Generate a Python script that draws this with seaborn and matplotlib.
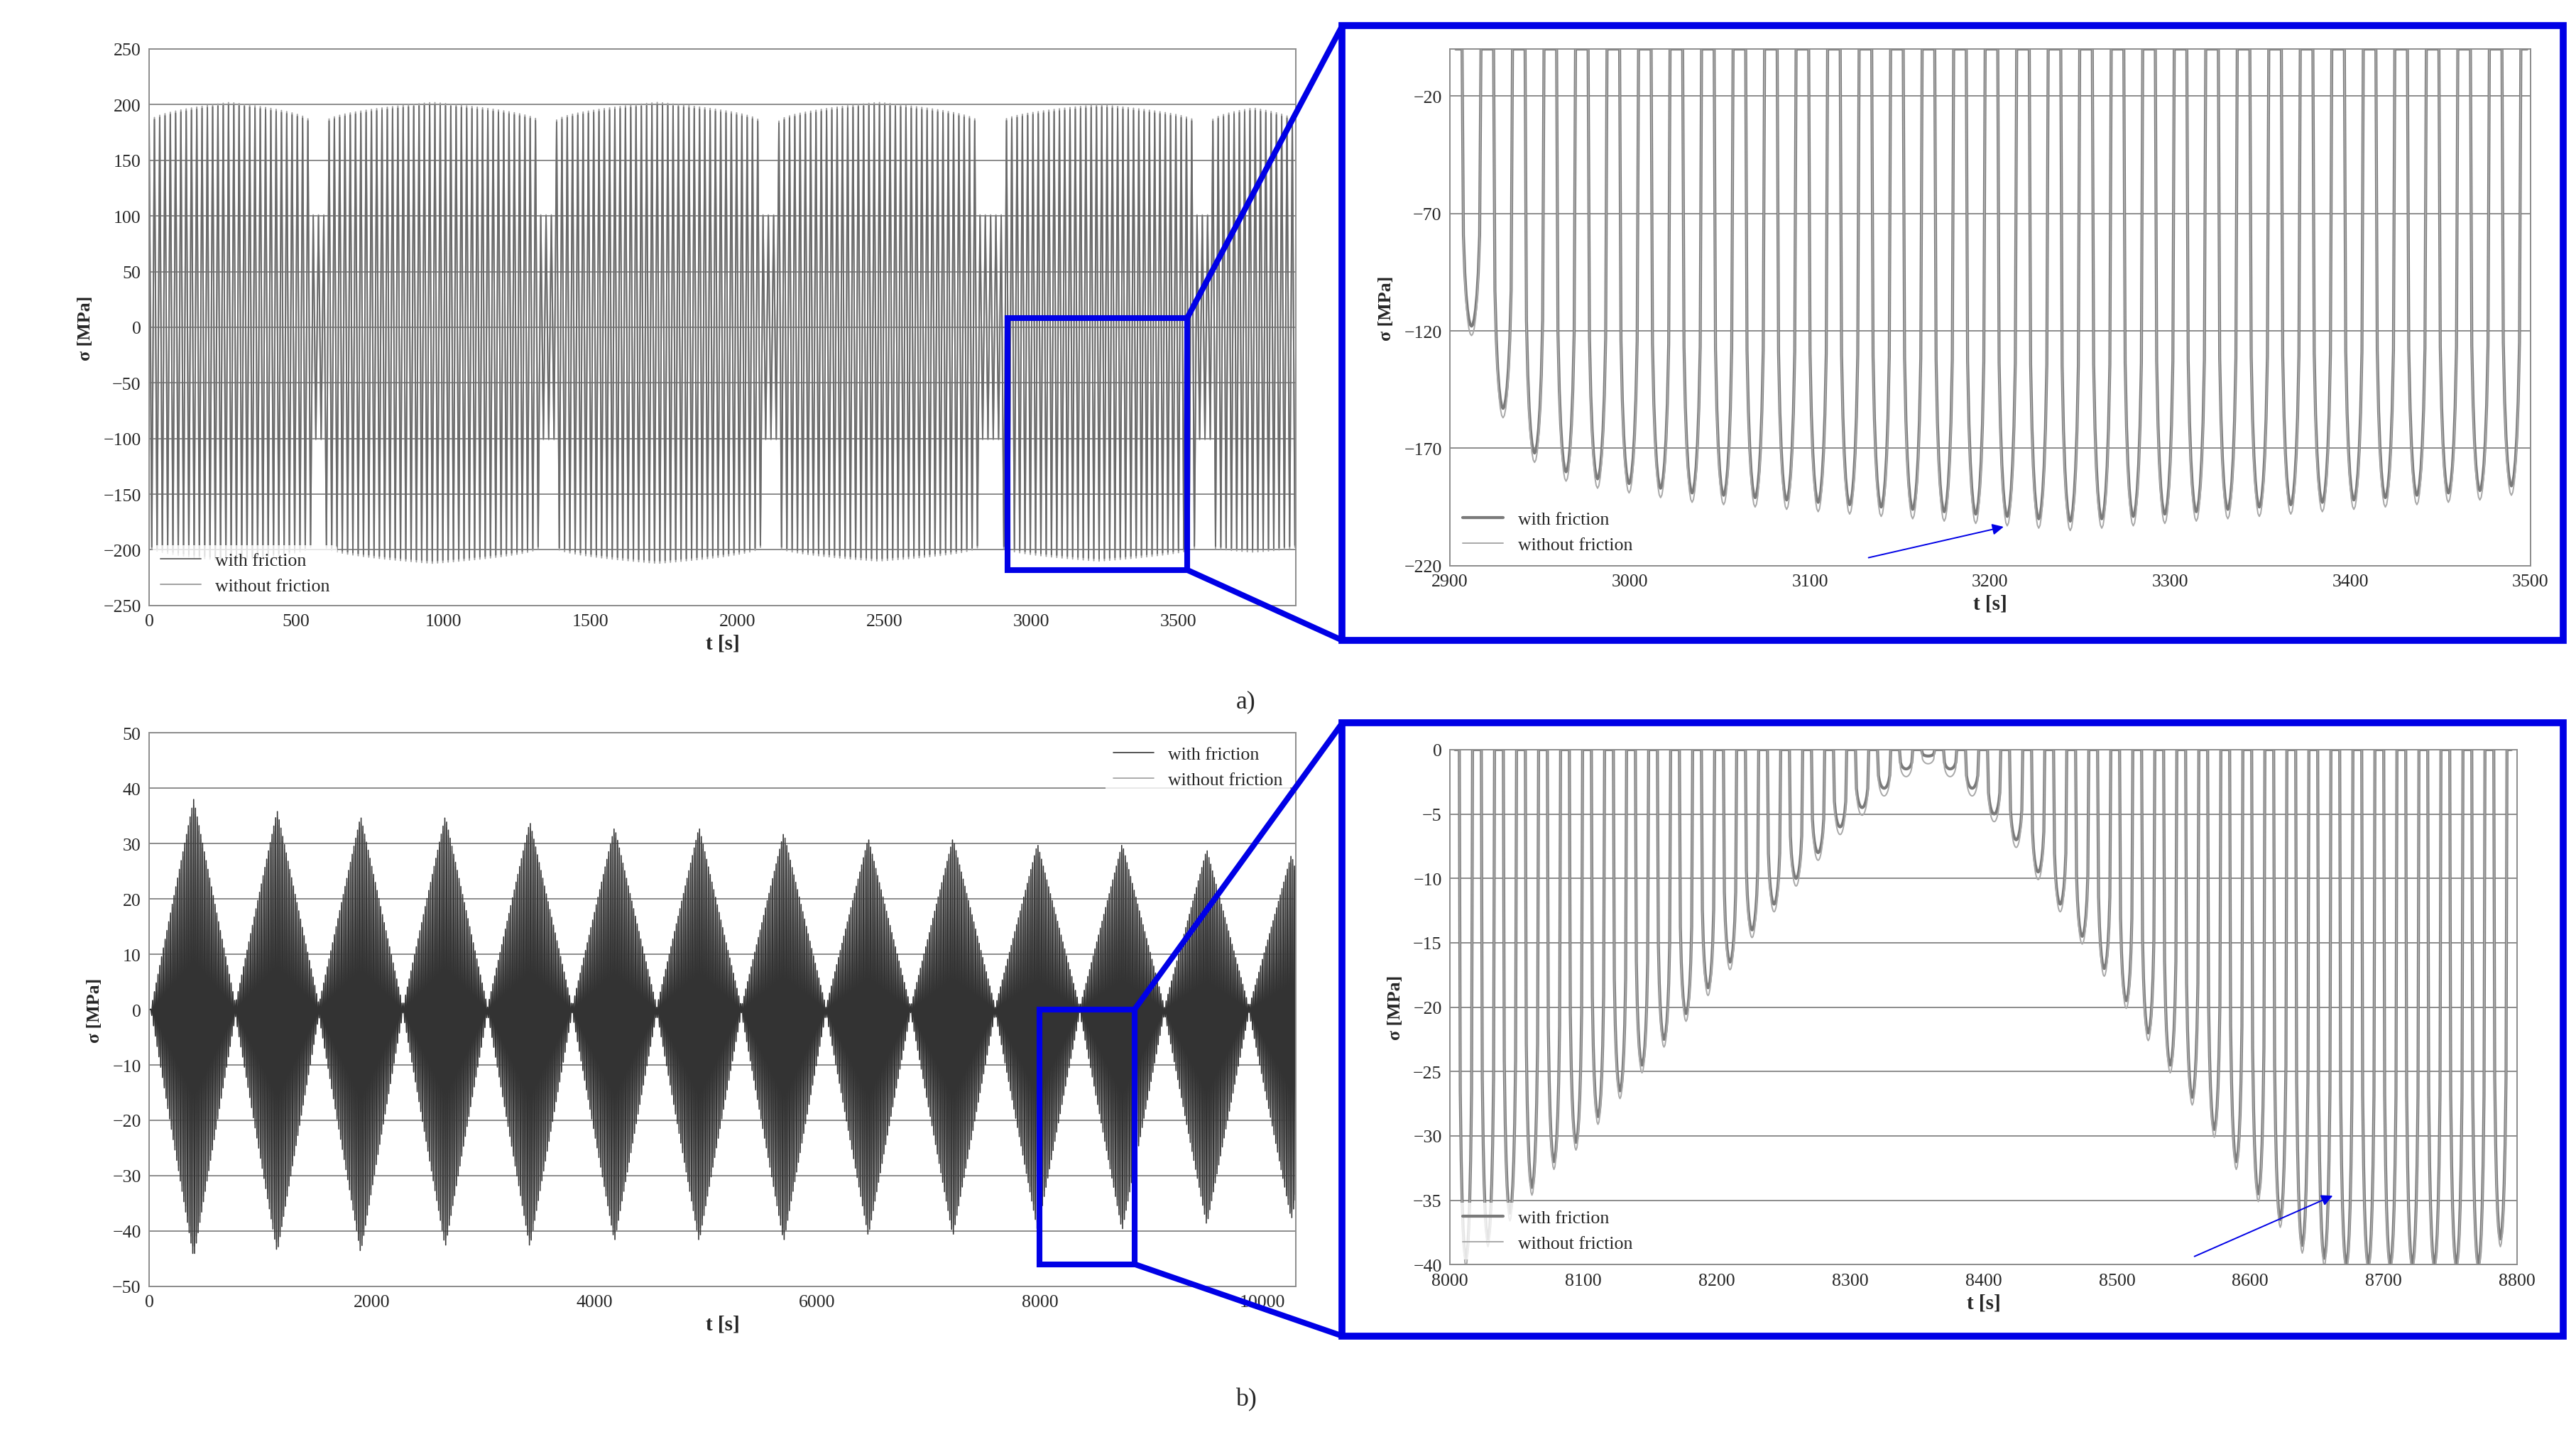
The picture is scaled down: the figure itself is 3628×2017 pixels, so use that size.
import numpy as np
import pandas as pd
import matplotlib
matplotlib.use("Agg")
import matplotlib.pyplot as plt
import seaborn as sns
from matplotlib.patches import Rectangle, ConnectionPatch

sns.set_style("white")
plt.rcParams['font.family'] = ['Liberation Serif', 'DejaVu Serif']

# ---- data ----
# panel a) main: loading blocks (start, end) and envelope of peaks [MPa]
a_block_start = [0, 600, 1380, 2140, 2900, 3610]
a_block_end = [550, 1330, 2080, 2820, 3560, 3900]
a_top_edge = [182, 182, 182, 182, 182, 182]
a_top_mid = [200, 200, 200, 200, 198, 195]
a_bot_edge = [-195, -195, -195, -195, -195, -195]
a_bot_mid = [-208, -210, -210, -208, -208, -200]
a_half_period = 9.0

# panel a) zoom: minima of each cycle, 2900..3500 s
az_t0, az_period = 2912, 17.5
az_min_with = [-118, -153, -172, -180, -183, -185, -187, -189, -190, -191, -192, -193,
               -194, -195, -196, -197, -198, -199, -200, -201, -200, -199, -198, -197,
               -196, -195, -194, -193, -192, -191, -190, -189, -188, -186]
az_min_without = [m - 4 for m in az_min_with]

# panel b) main: triangle envelope peaks
b_peak_t = [400, 1150, 1900, 2660, 3420, 4180, 4940, 5700, 6460, 7220, 7980, 8740, 9500, 10260]
b_peak_top = [38, 36, 35, 35, 34, 33, 33, 32, 31, 31, 30, 30, 29, 28]
b_peak_bot = [-45, -44, -44, -43, -43, -42, -42, -42, -41, -41, -40, -40, -39, -38]
b_half_period = 8.0

# panel b) zoom: minima of each cycle, 8000..8800 s
bz_t0, bz_period = 8012, 16.5
bz_min_with = [-39.5, -38, -36, -34, -32, -30.5, -28.5, -26.5, -24.5, -22.5, -20.5, -18.5,
               -16.5, -14, -12, -10, -8, -6, -4.5, -3, -1.5, -0.5, -1.5, -3, -5, -7,
               -9.5, -12, -14.5, -17, -19.5, -22, -24.5, -27, -29.5, -32, -34.5, -36.5,
               -38.5, -39.5, -40, -40, -40, -40, -40, -40, -40, -38]
bz_min_without = [m - 0.6 for m in bz_min_with]


def env_a(t):
    for s, e, te, tm, be, bm in zip(a_block_start, a_block_end, a_top_edge, a_top_mid, a_bot_edge, a_bot_mid):
        if s <= t <= e:
            u = 1 - abs(2 * (t - s) / (e - s) - 1)
            return te + (tm - te) * np.sqrt(u), be + (bm - be) * np.sqrt(u)
    return 100, -100


def series_a():
    ts, vs = [], []
    t, k = 0.0, 0
    while t <= 3900:
        top, bot = env_a(t)
        ts.append(t)
        vs.append(top if k % 2 == 0 else bot)
        t += a_half_period
        k += 1
    return ts, vs


def series_b():
    ts, vs = [], []
    t, k = 0.0, 0
    pk = np.array(b_peak_t)
    while t <= 10300:
        i = int(np.argmin(np.abs(pk - t)))
        u = max(0, 1 - abs(t - pk[i]) / 385)
        val = b_peak_top[i] * u if k % 2 == 0 else b_peak_bot[i] * u
        ts.append(t)
        vs.append(val)
        t += b_half_period
        k += 1
    return ts, vs


def zoom_series(t0, period, mins, top):
    ts, vs = [], []
    xs = np.linspace(-1, 1, 15)
    for i, m in enumerate(mins):
        tc = t0 + i * period
        ts.append(tc - 0.5 * period)
        vs.append(top)
        for x in xs:
            ts.append(tc + x * 0.3 * period)
            vs.append(top + (m - top) * (1 - x ** 2) ** 0.3)
    ts.append(t0 + (len(mins) - 0.5) * period)
    vs.append(top)
    return ts, vs


W, H = 1555, 865
fig = plt.figure(figsize=(36.29 / 2.333, 20.18 / 2.333), dpi=233.3)


def ax_at(x0, y0, x1, y1):
    return fig.add_axes([x0 / W, 1 - y1 / H, (x1 - x0) / W, (y1 - y0) / H])


def style(ax):
    ax.grid(axis='y', color='#8c8c8c', lw=0.6)
    for s in ax.spines.values():
        s.set_color('#8c8c8c')
        s.set_linewidth(0.6)
    ax.tick_params(labelsize=8, length=0)
    ax.set_ylabel('σ [MPa]', fontsize=8, fontweight='bold')
    ax.set_xlabel('t [s]', fontsize=9, fontweight='bold', labelpad=2)


blue = '#0000e6'

# ---- a) main ----
axA = ax_at(90, 30, 782, 366)
ta, va = series_a()
dfa = pd.DataFrame({'t': ta, 'with': va, 'without': [v * 1.01 for v in va]})
sns.lineplot(x='t', y='without', data=dfa, ax=axA, color='#a0a0a0', lw=0.6, label='without friction', sort=False, estimator=None)
sns.lineplot(x='t', y='with', data=dfa, ax=axA, color='#6a6a6a', lw=0.6, label='with friction', sort=False, estimator=None)
axA.set_xlim(0, 3900)
axA.set_ylim(-250, 250)
axA.set_yticks(range(-250, 251, 50))
axA.set_xticks(range(0, 3501, 500))
style(axA)
h, l = axA.get_legend_handles_labels()
leg = axA.legend(h[::-1], l[::-1], loc='lower left', fontsize=8, frameon=True, handlelength=2.2, borderaxespad=0.2)
leg.get_frame().set_edgecolor('none')
axA.add_patch(Rectangle((2920, -218), 610, 226, fill=False, ec=blue, lw=2.5, zorder=5))

# ---- a) zoom ----
axAZ = ax_at(875, 30, 1527, 342)
tz, vz = zoom_series(az_t0, az_period, az_min_with, 0)
tz2, vz2 = zoom_series(az_t0, az_period, az_min_without, 0)
sns.lineplot(x=tz, y=vz, ax=axAZ, color='#7a7a7a', lw=1.3, label='with friction', sort=False, estimator=None)
sns.lineplot(x=tz2, y=vz2, ax=axAZ, color='#a8a8a8', lw=0.6, label='without friction', sort=False, estimator=None)
axAZ.set_xlim(2900, 3500)
axAZ.set_ylim(-220, 0)
axAZ.set_yticks(range(-220, -19, 50))
axAZ.set_xticks(range(2900, 3501, 100))
style(axAZ)
leg = axAZ.legend(loc='lower left', fontsize=8, frameon=True, handlelength=2.2, borderaxespad=0.3)
leg.get_frame().set_edgecolor('none')
axAZ.annotate('', xy=(3210, -203), xytext=(3130, -217),
              arrowprops=dict(arrowstyle='-|>', color=blue, lw=0.6))

# ---- b) main ----
axB = ax_at(90, 443, 782, 777)
tb, vb = series_b()
sns.lineplot(x=tb, y=[v * 0.97 for v in vb], ax=axB, color='#9a9a9a', lw=0.5, label='without friction', sort=False, estimator=None)
sns.lineplot(x=tb, y=vb, ax=axB, color='#333333', lw=0.5, label='with friction', sort=False, estimator=None)
axB.set_xlim(0, 10300)
axB.set_ylim(-50, 50)
axB.set_yticks(range(-50, 51, 10))
axB.set_xticks(range(0, 10001, 2000))
style(axB)
h, l = axB.get_legend_handles_labels()
leg = axB.legend(h[::-1], l[::-1], loc='upper right', fontsize=8, frameon=True, handlelength=2.2, borderaxespad=0.3)
leg.get_frame().set_edgecolor('none')
axB.add_patch(Rectangle((8000, -46), 850, 46, fill=False, ec=blue, lw=2.5, zorder=5))

# ---- b) zoom ----
axBZ = ax_at(875, 453, 1519, 764)
tz, vz = zoom_series(bz_t0, bz_period, bz_min_with, 0)
tz2, vz2 = zoom_series(bz_t0, bz_period, bz_min_without, 0)
sns.lineplot(x=tz, y=vz, ax=axBZ, color='#7a7a7a', lw=1.3, label='with friction', sort=False, estimator=None)
sns.lineplot(x=tz2, y=vz2, ax=axBZ, color='#a8a8a8', lw=0.6, label='without friction', sort=False, estimator=None)
axBZ.set_xlim(8000, 8800)
axBZ.set_ylim(-40, 0)
axBZ.set_yticks(range(-40, 1, 5))
axBZ.set_xticks(range(8000, 8801, 100))
style(axBZ)
leg = axBZ.legend(loc='lower left', fontsize=8, frameon=True, handlelength=2.2, borderaxespad=0.3)
leg.get_frame().set_edgecolor('none')
axBZ.annotate('', xy=(8665, -34.5), xytext=(8555, -39.5),
              arrowprops=dict(arrowstyle='-|>', color=blue, lw=0.6))

# ---- blue frames and connectors ----
for (x0, y0, x1, y1) in [(810, 16, 1547, 387), (810, 437, 1547, 807)]:
    fig.add_artist(Rectangle((x0 / W, 1 - y1 / H), (x1 - x0) / W, (y1 - y0) / H,
                             transform=fig.transFigure, fill=False, ec=blue, lw=3))
for ax, p, q in [(axA, (3530, 8), (810, 16)), (axA, (3530, -218), (810, 387)),
                 (axB, (8850, 0), (810, 437)), (axB, (8850, -46), (810, 807))]:
    fig.add_artist(ConnectionPatch(xyA=p, coordsA=ax.transData, xyB=(q[0] / W, 1 - q[1] / H),
                                   coordsB=fig.transFigure, color=blue, lw=2.5))

fig.text(752 / W, 1 - 424 / H, 'a)', fontsize=11, ha='center', va='center')
fig.text(752 / W, 1 - 845 / H, 'b)', fontsize=11, ha='center', va='center')

fig.savefig('out.png', dpi=233.3)
